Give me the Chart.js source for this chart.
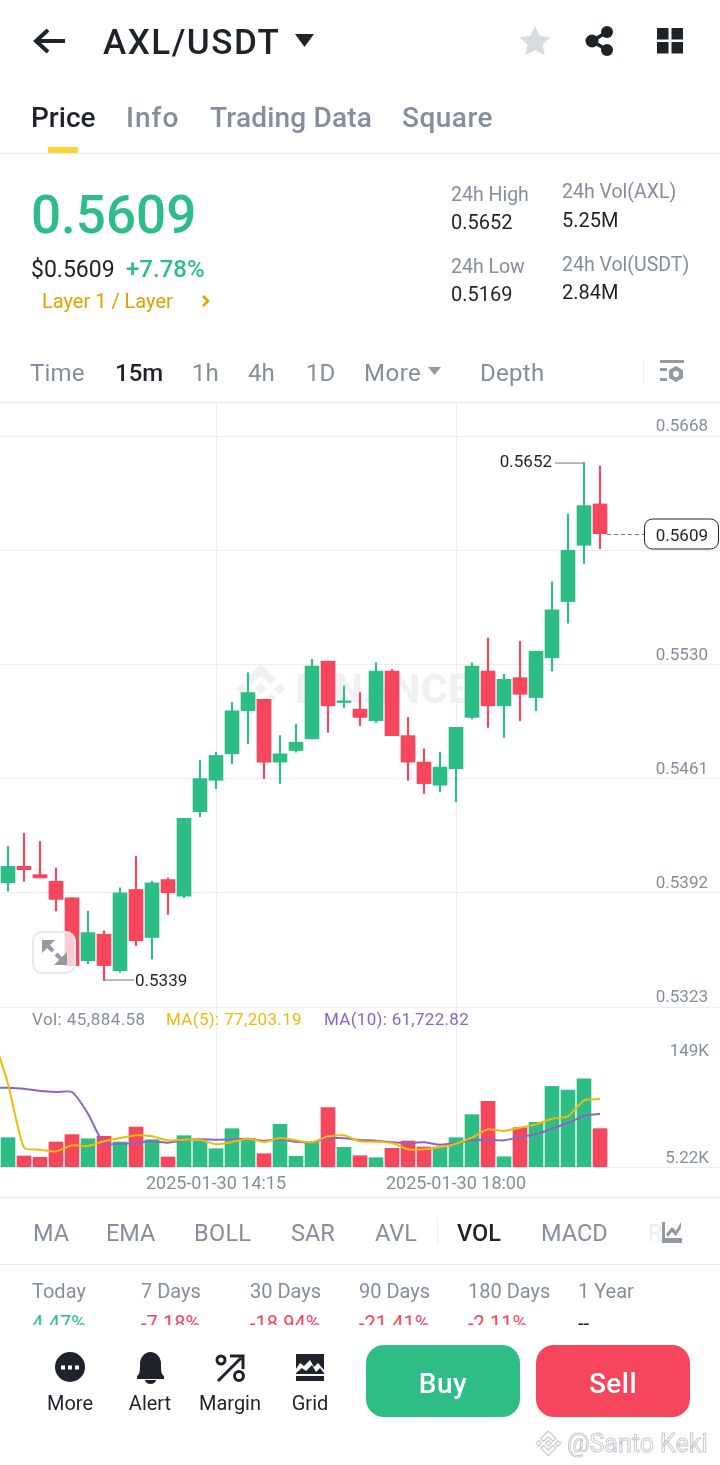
<!DOCTYPE html>
<html>
<head>
<meta charset="utf-8">
<title>AXL/USDT</title>
<script src="https://cdn.jsdelivr.net/npm/chart.js@4/dist/chart.umd.min.js"></script>
<style>
  html, body { margin: 0; padding: 0; background: #fff; }
  #page { position: relative; width: 720px; height: 1465px; overflow: hidden; background: #fff; font-family: Roboto, sans-serif; }
  #page span { position: absolute; white-space: nowrap; line-height: 1; transform: translateY(-50%); }
  canvas { position: absolute; left: -16px; }
  #priceChart { top: 403px; }
  #volChart { top: 1008px; }
  .rule { position: absolute; background: #eaecef; }
  #clip { position: absolute; left: 0; top: 1300px; width: 720px; height: 25px; overflow: hidden; }
  #mark { position: absolute; left: 0; top: 0; color: #eff1f3; }
  #icons { position: absolute; left: 0; top: 0; }
  .btn { position: absolute; top: 1345px; width: 154px; height: 72px; border-radius: 18px; }
</style>
</head>
<body>
<div id="page">
  <svg id="mark" width="720" height="1465">
    <path transform="translate(236 664) scale(0.39)" fill="#eff1f3" d="m38.73 53.2 24.59-24.58 24.6 24.6 14.3-14.31L63.32 0 24.43 38.9zM0 63.31l14.3-14.31 14.31 14.31-14.31 14.3zm38.73 10.1 24.59 24.59 24.6-24.6 14.31 14.29L63.32 126.6 24.43 87.7l-.02-.02zM98 63.31l14.3-14.3 14.31 14.3-14.31 14.3zM77.83 63.3 63.32 48.78 52.59 59.51l-1.24 1.23-2.54 2.54 14.51 14.51 14.51-14.48z"/>
    <text x="295" y="703" font-family="Roboto" font-weight="700" font-size="40" letter-spacing="1" fill="#eff1f3">BINANCE</text>
  </svg>
  <canvas id="priceChart" width="736" height="605"></canvas>
  <canvas id="volChart" width="736" height="189"></canvas>

  <div class="rule" style="left:0;top:153px;width:720px;height:1px"></div>
  <div class="rule" style="left:48px;top:147px;width:30px;height:6px;background:#fcd535"></div>
  <div class="rule" style="left:0;top:402px;width:720px;height:1px"></div>
  <div class="rule" style="left:643px;top:360px;width:1px;height:24px"></div>
  <div class="rule" style="left:0;top:1197px;width:720px;height:1px"></div>
  <div class="rule" style="left:437px;top:1219px;width:1px;height:24px"></div>
  <div class="rule" style="left:0;top:1264px;width:720px;height:1px"></div>
  <div id="clip"></div>
  <div class="btn" style="left:366px;background:#2ebd85"></div>
  <div class="btn" style="left:536px;background:#f6465d"></div>
  <div style="position:absolute;left:32px;top:931px;width:40px;height:39px;border:2px solid #e6e8ec;border-radius:10px;background:rgba(255,255,255,.72)"></div>

  <svg id="icons" width="720" height="1465">
    <g fill="none" stroke="#1e2329" stroke-width="4">
      <path d="M36 41h29M48 30 36 41l12 11"/>
    </g>
    <path d="M295 34h19l-9.500 13z" fill="#1e2329"/>
    <path d="M535 26l4.800 10 10.700 1.300-7.900 7.300 2.100 10.700-9.700-5.300-9.700 5.300 2.100-10.700-7.900-7.300 10.700-1.300z" fill="#d8dce1"/>
    <g fill="#1e2329">
      <circle cx="607" cy="32" r="6"/><circle cx="607" cy="50" r="6"/><circle cx="592" cy="41" r="6.500"/>
      <path d="M592 41 607 32M592 41 607 50" stroke="#1e2329" stroke-width="3.500"/>
      <rect x="657" y="28" width="11.500" height="11.500"/><rect x="671.500" y="28" width="11.500" height="11.500"/>
      <rect x="657" y="42" width="11.500" height="11.500"/><rect x="671.500" y="42" width="11.500" height="11.500"/>
    </g>
    <path d="M203 296l5 5-5 5" fill="none" stroke="#e0a100" stroke-width="2.500"/>
    <path d="M428 367h13l-6.500 8z" fill="#929aa5"/>
    <g fill="#929aa5">
      <rect x="660" y="360" width="24" height="3"/>
      <rect x="660" y="368" width="7" height="3"/><rect x="660" y="378" width="7" height="3"/>
      <path d="M676 366l7 4v8l-7 4-7-4v-8z"/><circle cx="676" cy="374" r="3" fill="#fff"/>
    </g>
    <path d="M42 940h13l-13 13zM67 965H54l13-13z" fill="#929aa5"/>
    <path d="M46 944l7 7M63 961l-7-7" fill="none" stroke="#929aa5" stroke-width="4"/>
    <g fill="#929aa5">
      <rect x="662" y="1238" width="20" height="5"/>
      <rect x="662" y="1222" width="3" height="18"/>
      <path d="M666 1234l6-7 4 4 5-9v6l-5 8-4-4-4 5z"/>
    </g>
    <circle cx="70" cy="1367" r="15" fill="#1e2329"/>
    <g fill="#fff"><rect x="61" y="1365.500" width="4" height="4"/><rect x="68" y="1365.500" width="4" height="4"/><rect x="75" y="1365.500" width="4" height="4"/></g>
    <path d="M137 1376c3-2 3-6 3-12a10.500 12 0 0 1 21 0c0 6 0 10 3 12v3h-27z" fill="#1e2329"/>
    <path d="M145 1380h11a5.500 4 0 0 1-11 0z" fill="#1e2329"/>
    <g fill="none" stroke="#1e2329" stroke-width="3">
      <path d="M218 1381 241 1358M230 1356h13v13"/>
      <circle cx="221" cy="1360" r="4"/><circle cx="239" cy="1376" r="4.500"/>
    </g>
    <g fill="#1e2329">
      <path d="M296 1354h28v16l-6-7-4 4-4-7-6 6-4-3-4 6z"/>
      <path d="M296 1373l6-5 4 3 6-6 4 7 4-4 4 5v1h-28z"/>
      <rect x="296" y="1376" width="28" height="5"/>
    </g>
    <path transform="translate(536 1431) scale(0.195)" fill="#fff" stroke="#c6cad0" stroke-width="6" d="m38.73 53.2 24.59-24.58 24.6 24.6 14.3-14.31L63.32 0 24.43 38.9zM0 63.31l14.3-14.31 14.31 14.31-14.31 14.3zm38.73 10.1 24.59 24.59 24.6-24.6 14.31 14.29L63.32 126.6 24.43 87.7l-.02-.02zM98 63.31l14.3-14.3 14.31 14.3-14.31 14.3zM77.83 63.3 63.32 48.78 52.59 59.51l-1.24 1.23-2.54 2.54 14.51 14.51 14.51-14.48z"/>
  </svg>
</div>

<script>
// 15m candles, first one sits just off the left edge so the MA lines run in from outside
var categories = [
  '10:45','11:00','11:15','11:30','11:45','12:00','12:15','12:30','12:45','13:00','13:15','13:30',
  '13:45','14:00','14:15','14:30','14:45','15:00','15:15','15:30','15:45','16:00','16:15','16:30',
  '16:45','17:00','17:15','17:30','17:45','18:00','18:15','18:30','18:45','19:00','19:15','19:30',
  '19:45','20:00','20:15','20:30','20:45','21:00','21:15','21:30','21:45','22:00'
];
var opens = [0.5395,0.5398,0.5408,0.5403,0.5399,0.5389,0.5351,0.5367,0.5345,0.5394,0.5365,0.5400,0.5390,0.5441,0.5460,0.5476,0.5502,0.5509,0.5471,0.5478,0.5485,0.5532,0.5507,0.5503,0.5496,0.5526,0.5487,0.5471,0.5457,0.5467,0.5498,0.5526,0.5505,0.5522,0.5510,0.5534,0.5568,0.5602,0.5627];
var highs = [0.5412,0.5420,0.5428,0.5423,0.5407,0.5389,0.5381,0.5369,0.5395,0.5414,0.5399,0.5401,0.5437,0.5472,0.5477,0.5507,0.5525,0.5509,0.5487,0.5494,0.5533,0.5532,0.5517,0.5513,0.5531,0.5527,0.5498,0.5479,0.5477,0.5492,0.5531,0.5546,0.5524,0.5544,0.5538,0.5580,0.5621,0.5652,0.5650];
var lows = [0.5390,0.5393,0.5399,0.5401,0.5381,0.5348,0.5349,0.5339,0.5344,0.5360,0.5352,0.5379,0.5389,0.5438,0.5455,0.5470,0.5482,0.5461,0.5458,0.5477,0.5485,0.5489,0.5504,0.5493,0.5495,0.5487,0.5460,0.5452,0.5453,0.5447,0.5497,0.5492,0.5486,0.5496,0.5502,0.5526,0.5555,0.5591,0.5600];
var closes = [0.5398,0.5408,0.5406,0.5401,0.5388,0.5348,0.5368,0.5348,0.5392,0.5363,0.5398,0.5392,0.5437,0.5461,0.5475,0.5502,0.5513,0.5471,0.5476,0.5483,0.5529,0.5505,0.5508,0.5498,0.5526,0.5487,0.5471,0.5458,0.5468,0.5492,0.5529,0.5505,0.5521,0.5512,0.5538,0.5563,0.5599,0.5626,0.5609];
var volumes = [40000,36300,16900,15500,31700,39500,35200,37800,31700,47600,34200,15800,38400,32800,24600,45800,35200,19300,50500,16600,31700,68100,26100,17200,15100,25000,32800,26400,26400,36300,60700,74900,16100,46900,52600,90800,86800,98800,45884.58];
var ma5 = [146550,93550,25710,23590,21830,28190,27480,32420,35960,38780,37720,33480,34190,34190,29240,31720,35250,31720,35960,33480,31360,37720,38780,32420,32070,30660,23940,23940,26060,29950,36310,45140,43380,46910,50440,56450,58920,75880,77203.19];
var ma10 = [89305,89305,88250,85770,84710,84710,61750,29950,29950,30660,32420,31010,33480,34540,34190,34540,35250,33130,34540,32070,31360,35960,35600,33840,33130,31360,30660,31360,28890,30660,33480,34190,33480,37020,39840,45850,51860,59270,61722.82];

var priceTicks = [0.5668, 0.5599, 0.5530, 0.5461, 0.5392, 0.5323];
var volTicks = [149000, 5220];
var volTickLabels = ['149K', '5.22K'];
var timeTicks = ['14:15', '18:00'];

var GREEN = '#2ebd85', RED = '#f6465d', GRID = '#eceef1', AXIS = '#848e9c', DARK = '#1e2329';
var FONT = 'Roboto, sans-serif';

function isTimeTick(scale, value) {
  return timeTicks.indexOf(scale.getLabelForValue(value)) >= 0;
}

// mirrored axes still ask for room in Chart.js, take it back so the plot runs edge to edge
function noRoom(scale) {
  scale.width = 0;
  scale.paddingTop = 0;
  scale.paddingBottom = 0;
}

var colors = opens.map(function (o, i) { return closes[i] >= o ? GREEN : RED; });
var wicks = lows.map(function (l, i) { return [l, highs[i]]; });
var bodies = opens.map(function (o, i) { return [o, closes[i]]; });

// hi/lo leaders plus the last price tag
var priceMarks = {
  id: 'priceMarks',
  afterDraw: function (chart) {
    var c = chart.ctx, x = chart.scales.x, y = chart.scales.y;
    var hi = highs.indexOf(Math.max.apply(null, highs));
    var lo = lows.indexOf(Math.min.apply(null, lows));
    var hx = x.getPixelForValue(hi), hy = y.getPixelForValue(highs[hi]);
    var lx = x.getPixelForValue(lo), ly = y.getPixelForValue(lows[lo]);
    c.save();
    c.font = '17px ' + FONT;
    c.textBaseline = 'middle';
    c.strokeStyle = '#707a8a';
    c.lineWidth = 1;
    c.beginPath();
    c.moveTo(hx, hy + 0.5); c.lineTo(hx - 29, hy + 0.5);
    c.moveTo(lx, ly - 0.5); c.lineTo(lx + 30, ly - 0.5);
    c.stroke();
    c.fillStyle = DARK;
    c.textAlign = 'right';
    c.fillText(highs[hi].toFixed(4), hx - 32, hy);
    c.textAlign = 'left';
    c.fillText(lows[lo].toFixed(4), lx + 31, ly + 1);

    var last = closes.length - 1;
    var py = Math.round(y.getPixelForValue(closes[last])) + 0.5;
    var px = x.getPixelForValue(last) + 7;
    c.setLineDash([4, 3]);
    c.beginPath();
    c.moveTo(px, py); c.lineTo(660, py);
    c.stroke();
    c.setLineDash([]);
    c.beginPath();
    c.roundRect(660.5, py - 15.5, 74, 30, 8);
    c.fillStyle = '#fff';
    c.fill();
    c.strokeStyle = DARK;
    c.stroke();
    c.fillStyle = DARK;
    c.textAlign = 'right';
    c.fillText(closes[last].toFixed(4), 724, py + 2);
    c.restore();
  }
};

new Chart(document.getElementById('priceChart').getContext('2d'), {
  type: 'bar',
  data: {
    labels: categories,
    datasets: [
      { data: wicks, backgroundColor: colors, barThickness: 1.5, grouped: false },
      { data: bodies, backgroundColor: colors, barThickness: 14, grouped: false }
    ]
  },
  options: {
    responsive: false,
    animation: false,
    layout: { padding: { bottom: 1 } },
    plugins: { legend: { display: false }, tooltip: { enabled: false } },
    scales: {
      x: {
        ticks: { display: false, autoSkip: false },
        border: { display: false },
        afterFit: function (scale) { scale.height = 0; scale.paddingLeft = 0; scale.paddingRight = 0; },
        grid: {
          offset: false,
          drawTicks: false,
          color: function (ctx) { return ctx.tick && isTimeTick(ctx.scale, ctx.tick.value) ? GRID : 'rgba(0,0,0,0)'; }
        }
      },
      y: {
        position: 'right',
        min: 0.5323,
        max: 0.5688,
        afterBuildTicks: function (scale) { scale.ticks = priceTicks.map(function (v) { return { value: v }; }); },
        afterFit: noRoom,
        border: { display: false },
        grid: { color: GRID, drawTicks: false },
        ticks: {
          mirror: true,
          padding: -12,
          labelOffset: -9,
          color: AXIS,
          font: { family: FONT, size: 17 },
          callback: function (v) { return v.toFixed(4); }
        }
      }
    }
  },
  plugins: [priceMarks]
});

new Chart(document.getElementById('volChart').getContext('2d'), {
  type: 'bar',
  data: {
    labels: categories,
    datasets: [
      { type: 'line', data: ma10, borderColor: '#8a65c4', borderWidth: 2, pointRadius: 0, tension: 0.2, order: 1 },
      { type: 'line', data: ma5, borderColor: '#f0b90b', borderWidth: 2, pointRadius: 0, tension: 0.2, order: 0 },
      { data: volumes, backgroundColor: colors, barThickness: 14, order: 2 }
    ]
  },
  options: {
    responsive: false,
    animation: false,
    plugins: { legend: { display: false }, tooltip: { enabled: false } },
    scales: {
      x: {
        afterFit: function (scale) { scale.height = 30; scale.paddingLeft = 0; scale.paddingRight = 0; },
        border: { display: false },
        grid: {
          offset: false,
          drawTicks: false,
          color: function (ctx) { return ctx.tick && isTimeTick(ctx.scale, ctx.tick.value) ? GRID : 'rgba(0,0,0,0)'; }
        },
        ticks: {
          autoSkip: false,
          maxRotation: 0,
          padding: 7,
          color: AXIS,
          font: { family: FONT, size: 18 },
          callback: function (v) { return isTimeTick(this, v) ? '2025-01-30 ' + this.getLabelForValue(v) : ''; }
        }
      },
      y: {
        display: true,
        position: 'right',
        min: 5220,
        max: 173760,
        afterBuildTicks: function (scale) { scale.ticks = [{ value: volTicks[1] }]; },
        afterFit: noRoom,
        border: { display: false },
        grid: { color: GRID, drawTicks: false },
        ticks: { display: false }
      },
      // label axis only: the app prints the top label well inside the pane
      volLabels: {
        position: 'right',
        min: 5220,
        max: 218900,
        afterBuildTicks: function (scale) { scale.ticks = volTicks.map(function (v) { return { value: v }; }); },
        afterFit: noRoom,
        border: { display: false },
        grid: { display: false, drawTicks: false },
        ticks: {
          mirror: true,
          padding: -11,
          labelOffset: -8,
          color: AXIS,
          font: { family: FONT, size: 17 },
          callback: function (v) { return volTickLabels[volTicks.indexOf(v)]; }
        }
      }
    }
  }
});

// page furniture around the chart: text, left x (or centre), centre y, size, weight, colour, letter spacing
var GRAY = '#848e9c', ORANGE = '#f0b90b', PURPLE = '#8a65c4';
var texts = [
  ['AXL/USDT', 103, 42, 35, 500, DARK, 1.5],
  ['Price', 31, 118, 28, 500, DARK, 0], ['Info', 126, 118, 28, 500, GRAY, 1],
  ['Trading Data', 210, 118, 28, 500, GRAY, 0.2], ['Square', 402, 118, 28, 500, GRAY, 0.5],
  ['0.5609', 31, 215, 53, 500, GREEN, 0],
  ['$0.5609', 31, 269, 23, 400, DARK, 0], ['+7.78%', 126, 269, 24, 500, GREEN, 0],
  ['Layer 1 / Layer', 42, 301, 20, 400, '#e0a100', 0],
  ['24h High', 451, 195, 19.5, 400, GRAY, 0], ['0.5652', 451, 222, 20, 400, DARK, 0],
  ['24h Vol(AXL)', 562, 192, 19.5, 400, GRAY, 0], ['5.25M', 562, 220, 20, 400, DARK, 0],
  ['24h Low', 451, 267, 19.5, 400, GRAY, 0], ['0.5169', 451, 294, 20, 400, DARK, 0],
  ['24h Vol(USDT)', 562, 265, 19.5, 400, GRAY, 0], ['2.84M', 562, 292, 20, 400, DARK, 0],
  ['Time', 30, 373, 24, 400, GRAY, 0.2], ['15m', 115, 373, 24, 500, DARK, 0], ['1h', 192, 373, 24, 400, GRAY, 0],
  ['4h', 248, 373, 24, 400, GRAY, 0], ['1D', 306, 373, 24, 400, GRAY, 0], ['More', 364, 373, 24, 400, GRAY, 0.5],
  ['Depth', 480, 373, 24, 400, GRAY, 0.3],
  ['Vol: 45,884.58', 32, 1019, 17, 400, GRAY, 0.45],
  ['MA(5): 77,203.19', 166, 1019, 17, 400, ORANGE, 0.35],
  ['MA(10): 61,722.82', 324, 1019, 17, 400, PURPLE, 0.3],
  ['MA', 33, 1234, 23.5, 400, GRAY, 0], ['EMA', 106, 1234, 23.5, 400, GRAY, 0], ['BOLL', 194, 1234, 23.5, 400, GRAY, 0.3],
  ['SAR', 291, 1234, 23.5, 400, GRAY, 0], ['AVL', 375, 1234, 23.5, 400, GRAY, 0], ['VOL', 457, 1234, 23.5, 500, DARK, 0],
  ['MACD', 541, 1234, 23.5, 400, GRAY, 0], ['R', 648, 1234, 23.5, 400, '#eceef1', 0],
  ['Today', 32, 1291, 20, 400, GRAY, 0], ['7 Days', 141, 1291, 20, 400, GRAY, 0], ['30 Days', 250, 1291, 20, 400, GRAY, 0],
  ['90 Days', 359, 1291, 20, 400, GRAY, 0], ['180 Days', 468, 1291, 20, 400, GRAY, 0], ['1 Year', 578, 1291, 20, 400, GRAY, 0]
];
var centered = [
  ['More', 70, 1403, 20, 400, DARK, 0], ['Alert', 150, 1403, 20, 400, DARK, 0],
  ['Margin', 230, 1403, 20, 400, DARK, 0], ['Grid', 310, 1403, 20, 400, DARK, 0],
  ['Buy', 443, 1384, 28, 500, '#fff', 0.5], ['Sell', 613, 1384, 28, 500, '#fff', 0.5]
];
var clipped = [
  ['4.47%', 32, GREEN], ['-7.18%', 141, RED], ['-18.94%', 250, RED],
  ['-21.41%', 359, RED], ['-2.11%', 468, RED], ['--', 578, DARK]
];

function addText(parent, t, align) {
  var s = document.createElement('span');
  s.textContent = t[0];
  s.style.left = t[1] + 'px';
  s.style.top = t[2] + 'px';
  s.style.fontSize = t[3] + 'px';
  s.style.fontWeight = t[4];
  s.style.color = t[5];
  s.style.letterSpacing = (t[6] || 0) + 'px';
  if (align) s.style.transform = 'translate(-50%,-50%)';
  parent.appendChild(s);
  return s;
}

var page = document.getElementById('page');
texts.forEach(function (t) { addText(page, t, false); });
centered.forEach(function (t) { addText(page, t, true); });
clipped.forEach(function (t) { addText(document.getElementById('clip'), [t[0], t[1], 23, 20, 400, t[2]], false); });

var wm = addText(page, ['@Santo Keki', 567, 1443, 25, 400, '#fff'], false);
wm.style.webkitTextStroke = '1px #c6cad0';
</script>
</body>
</html>
